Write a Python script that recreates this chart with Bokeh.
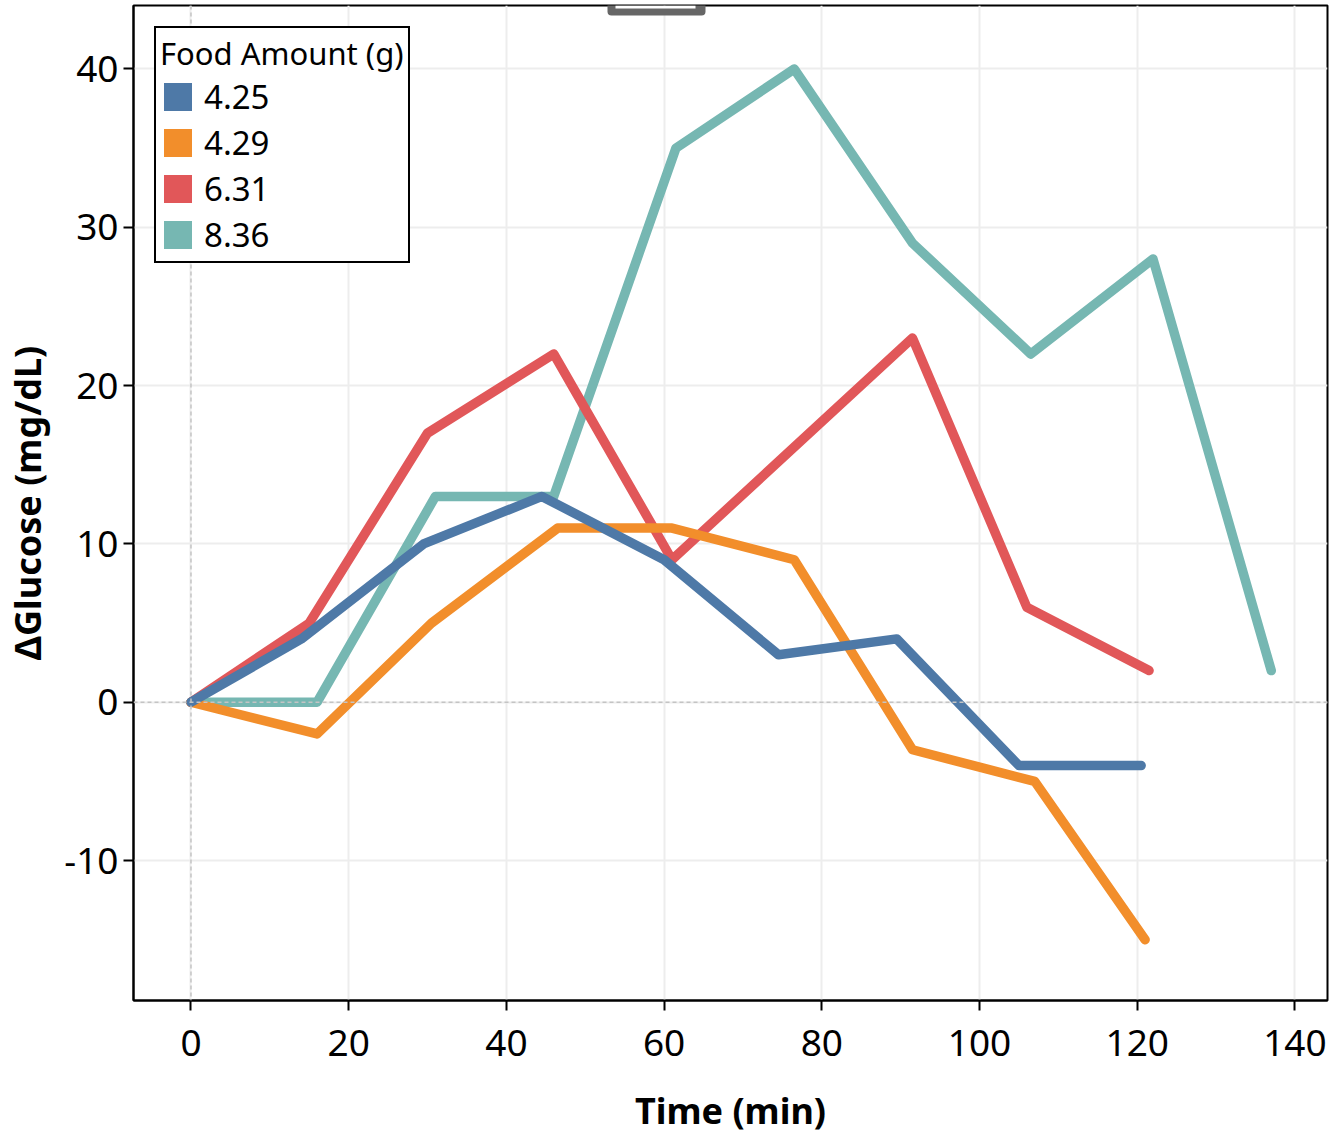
from bokeh.plotting import figure
from bokeh.models import (ColumnDataSource, Legend, LegendItem, Span, FixedTicker,
                          BoxAnnotation, Range1d, PrintfTickFormatter)
from bokeh.embed import file_html
from bokeh.resources import INLINE

# Glucose response after eating, one series per food amount
amounts = ["4.25", "4.29", "6.31", "8.36"]
colors = ["#4e79a7", "#f28e2b", "#e15759", "#76b7b2"]

time_425 = [0, 14, 29.5, 44.5, 60, 74.5, 89.5, 105, 120.5]
glucose_425 = [0, 4, 10, 13, 9, 3, 4, -4, -4]

time_429 = [0, 16, 30.5, 46.5, 61, 76.5, 91.5, 107, 121]
glucose_429 = [0, -2, 5, 11, 11, 9, -3, -5, -15]

time_631 = [0, 15, 30, 46, 61, 91.5, 106, 121.5]
glucose_631 = [0, 5, 17, 22, 9, 23, 6, 2]

time_836 = [0, 16, 31, 46, 61.5, 76.5, 91.5, 106.5, 122, 137]
glucose_836 = [0, 0, 13, 13, 35, 40, 29, 22, 28, 2]

x_ticks = [0, 20, 40, 60, 80, 100, 120, 140]
y_ticks = [-10, 0, 10, 20, 30, 40]

series = [
    (time_425, glucose_425),
    (time_429, glucose_429),
    (time_631, glucose_631),
    (time_836, glucose_836),
]

FONT = "Noto Sans"
W, H = 1334, 1140
LEFT, RIGHT, TOP, BOTTOM = 133, 7, 5, 140

p = figure(width=W, height=H, output_backend="svg", toolbar_location=None,
           x_range=Range1d(-7.29, 144.13), y_range=Range1d(-18.84, 44.01),
           min_border_left=LEFT, min_border_right=RIGHT, min_border_top=TOP,
           min_border_bottom=BOTTOM)
p.background_fill_color = "white"
p.border_fill_color = "white"
p.outline_line_color = "black"
p.outline_line_width = 2

# grid
p.xgrid.ticker = FixedTicker(ticks=x_ticks)
p.ygrid.ticker = FixedTicker(ticks=y_ticks)
for g in (p.xgrid, p.ygrid):
    g.grid_line_color = "#ededed"
    g.grid_line_width = 2

# zero reference lines
for dim in ("height", "width"):
    p.add_layout(Span(location=0, dimension=dim, line_color="#c4c4c4",
                      line_width=1.5, line_dash="4 3"))

# axes
p.xaxis.ticker = FixedTicker(ticks=x_ticks)
p.yaxis.ticker = FixedTicker(ticks=y_ticks)
p.yaxis.formatter = PrintfTickFormatter(format="%d")
p.xaxis.axis_label = "Time (min)"
p.yaxis.axis_label = "\u0394Glucose (mg/dL)"
for ax in (p.xaxis[0], p.yaxis[0]):
    ax.axis_line_color = "black"
    ax.axis_line_width = 2
    ax.major_tick_line_color = "black"
    ax.major_tick_line_width = 2
    ax.major_tick_out = 10
    ax.major_tick_in = 0
    ax.minor_tick_line_color = None
    ax.major_label_text_font = FONT
    ax.major_label_text_font_size = "37px"
    ax.major_label_text_color = "black"
    ax.axis_label_text_font = FONT
    ax.axis_label_text_font_size = "36px"
    ax.axis_label_text_font_style = "bold"
    ax.axis_label_text_color = "black"
p.xaxis.major_label_standoff = 19
p.xaxis.axis_label_standoff = 27
p.yaxis.major_label_standoff = 5
p.yaxis.axis_label_standoff = 9

# lines, drawn so that the first series ends on top
for (t, g), c in reversed(list(zip(series, colors))):
    p.line(t, g, line_color=c, line_width=9.5, line_cap="round", line_join="round")

# square swatches for the legend (zero-size quads at each series' start point)
items = []
for name, c, (t, g) in zip(amounts, colors, series):
    src = ColumnDataSource(dict(left=t[:1], right=t[:1], top=g[:1], bottom=g[:1]))
    r = p.quad(left="left", right="right", top="top", bottom="bottom", source=src,
               fill_color=c, line_color=None)
    items.append(LegendItem(label=name, renderers=[r]))

legend = Legend(items=items, location="top_left", margin=21,
                title="Food Amount (g)", title_text_font=FONT,
                title_text_font_size="31px", title_text_font_style="normal",
                title_text_color="black", title_standoff=0,
                label_text_font=FONT, label_text_font_size="33px",
                label_text_color="black",
                glyph_width=35, glyph_height=35, label_height=35,
                label_standoff=9, spacing=1, padding=4,
                border_line_color="black", border_line_width=2,
                border_line_alpha=1,
                background_fill_color="white", background_fill_alpha=1)
p.add_layout(legend)

# drag handle at the top edge (screen units from the frame's bottom-left)
frame_h = H - TOP - BOTTOM
p.add_layout(BoxAnnotation(left=607 - LEFT, right=705 - LEFT,
                           top=frame_h + TOP, bottom=frame_h + TOP - 15,
                           left_units="screen", right_units="screen",
                           top_units="screen", bottom_units="screen",
                           fill_color="#666666", fill_alpha=1, line_color=None,
                           border_radius=4))
p.add_layout(BoxAnnotation(left=615 - LEFT, right=695 - LEFT,
                           top=frame_h + TOP - 5, bottom=frame_h + TOP - 8,
                           left_units="screen", right_units="screen",
                           top_units="screen", bottom_units="screen",
                           fill_color="white", fill_alpha=1, line_color=None))

open("out.html", "w").write(file_html(p, INLINE))
